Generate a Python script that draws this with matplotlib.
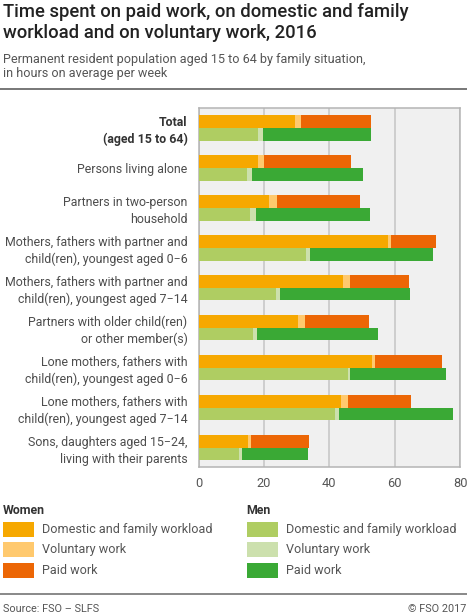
import matplotlib.pyplot as plt
from matplotlib.patches import Rectangle

plt.rcParams["font.family"] = ["Roboto", "DejaVu Sans"]

categories = [
    "Total\n(aged 15 to 64)",
    "Persons living alone",
    "Partners in two-person\nhousehold",
    "Mothers, fathers with partner and\nchild(ren), youngest aged 0\u22126",
    "Mothers, fathers with partner and\nchild(ren), youngest aged 7\u221214",
    "Partners with older child(ren)\nor other member(s)",
    "Lone mothers, fathers with\nchild(ren), youngest aged 0\u22126",
    "Lone mothers, fathers with\nchild(ren), youngest aged 7\u221214",
    "Sons, daughters aged 15\u221224,\nliving with their parents",
]

# hours per week
women_domestic = [29.6, 18.3, 21.7, 57.9, 44.2, 30.4, 53.2, 43.7, 15.1]
women_voluntary = [1.9, 1.6, 2.4, 1.1, 2.1, 2.1, 0.8, 1.9, 1.1]
women_paid = [21.2, 26.7, 25.2, 13.6, 18.0, 19.6, 20.4, 19.4, 17.6]

men_domestic = [18.3, 14.8, 15.8, 33.0, 23.8, 16.6, 45.6, 41.9, 12.4]
men_voluntary = [1.3, 1.7, 1.8, 1.2, 1.2, 1.2, 0.8, 1.2, 0.8]
men_paid = [33.1, 33.9, 34.9, 37.6, 39.6, 37.1, 29.4, 34.8, 20.2]

xticks = [0, 20, 40, 60, 80]

legend_labels = ["Domestic and family workload", "Voluntary work", "Paid work"]
women_colors = ["#f6a800", "#ffc96e", "#ec6605"]
men_colors = ["#afcd62", "#cce0ad", "#3aa935"]

W, H = 467, 616
fig = plt.figure(figsize=(W / 100, H / 100), dpi=100)


def fx(x):
    return x / W


def fy(y):
    return 1 - y / H


ax = fig.add_axes([fx(198.5), fy(467), fx(460) - fx(198.5), fy(108) - fy(467)])
ax.set_facecolor("#f0f0f0")

bh = 0.315
ypos = list(range(len(categories)))
yw = [y - bh / 2 for y in ypos]
ym = [y + bh / 2 for y in ypos]

left = [0] * len(categories)
for vals, col in zip([women_domestic, women_voluntary, women_paid], women_colors):
    ax.barh(yw, vals, left=left, height=bh, color=col, linewidth=0, zorder=3)
    left = [a + b for a, b in zip(left, vals)]

left = [0] * len(categories)
for vals, col in zip([men_domestic, men_voluntary, men_paid], men_colors):
    ax.barh(ym, vals, left=left, height=bh, color=col, linewidth=0, zorder=3)
    left = [a + b for a, b in zip(left, vals)]

ax.set_xlim(0, 80)
ax.set_ylim(8.48, -0.5)
ax.set_xticks(xticks)
ax.set_yticks(ypos)
ax.set_yticklabels(categories, linespacing=1.35)
ax.tick_params(axis="y", length=0, pad=8, labelsize=8.9, labelcolor="#4d4d4d")
ax.tick_params(axis="x", length=0, pad=7, labelsize=9.2, labelcolor="#555555")
ax.get_yticklabels()[0].set_fontweight("bold")
ax.get_yticklabels()[0].set_color("#333333")
ax.grid(axis="x", color="#c4c4c4", linewidth=1.1, zorder=1)
for s in ax.spines.values():
    s.set_color("#b4b4b4")
    s.set_linewidth(1.1)

# title block
fig.text(fx(3), fy(17), "Time spent on paid work, on domestic and family",
         fontsize=13.3, fontweight="medium", color="#222222", va="baseline")
fig.text(fx(3), fy(38.5), "workload and on voluntary work, 2016",
         fontsize=13.3, fontweight="medium", color="#222222", va="baseline")
fig.text(fx(3), fy(62.5), "Permanent resident population aged 15 to 64 by family situation,",
         fontsize=9.1, color="#555555", va="baseline")
fig.text(fx(3), fy(77.5), "in hours on average per week",
         fontsize=9.1, color="#555555", va="baseline")
fig.add_artist(plt.Line2D([0, 1], [fy(89), fy(89)], color="#777777", linewidth=1.4))

# legend
for x0, head, cols in [(3, "Women", women_colors), (246.7, "Men", men_colors)]:
    fig.text(fx(x0), fy(510), head, fontsize=8.9, fontweight="bold",
             color="#333333", va="center")
    for k, (lab, col) in enumerate(zip(legend_labels, cols)):
        yc = 529.5 + k * 20.3
        fig.add_artist(Rectangle((fx(x0), fy(yc + 7.5)), fx(31), 15 / H,
                                 color=col, linewidth=0))
        fig.text(fx(x0 + 39.5), fy(yc), lab, fontsize=9.1, color="#555555",
                 va="center")

# footer
fig.add_artist(plt.Line2D([0, 1], [fy(594), fy(594)], color="#888888", linewidth=1.4))
fig.text(fx(3), fy(609), "Source: FSO \u2013 SLFS", fontsize=7.8,
         color="#555555", va="center")
fig.text(fx(466), fy(609), "\u00a9 FSO 2017", fontsize=7.8,
         color="#555555", va="center", ha="right")

fig.savefig("out.png", dpi=100)
